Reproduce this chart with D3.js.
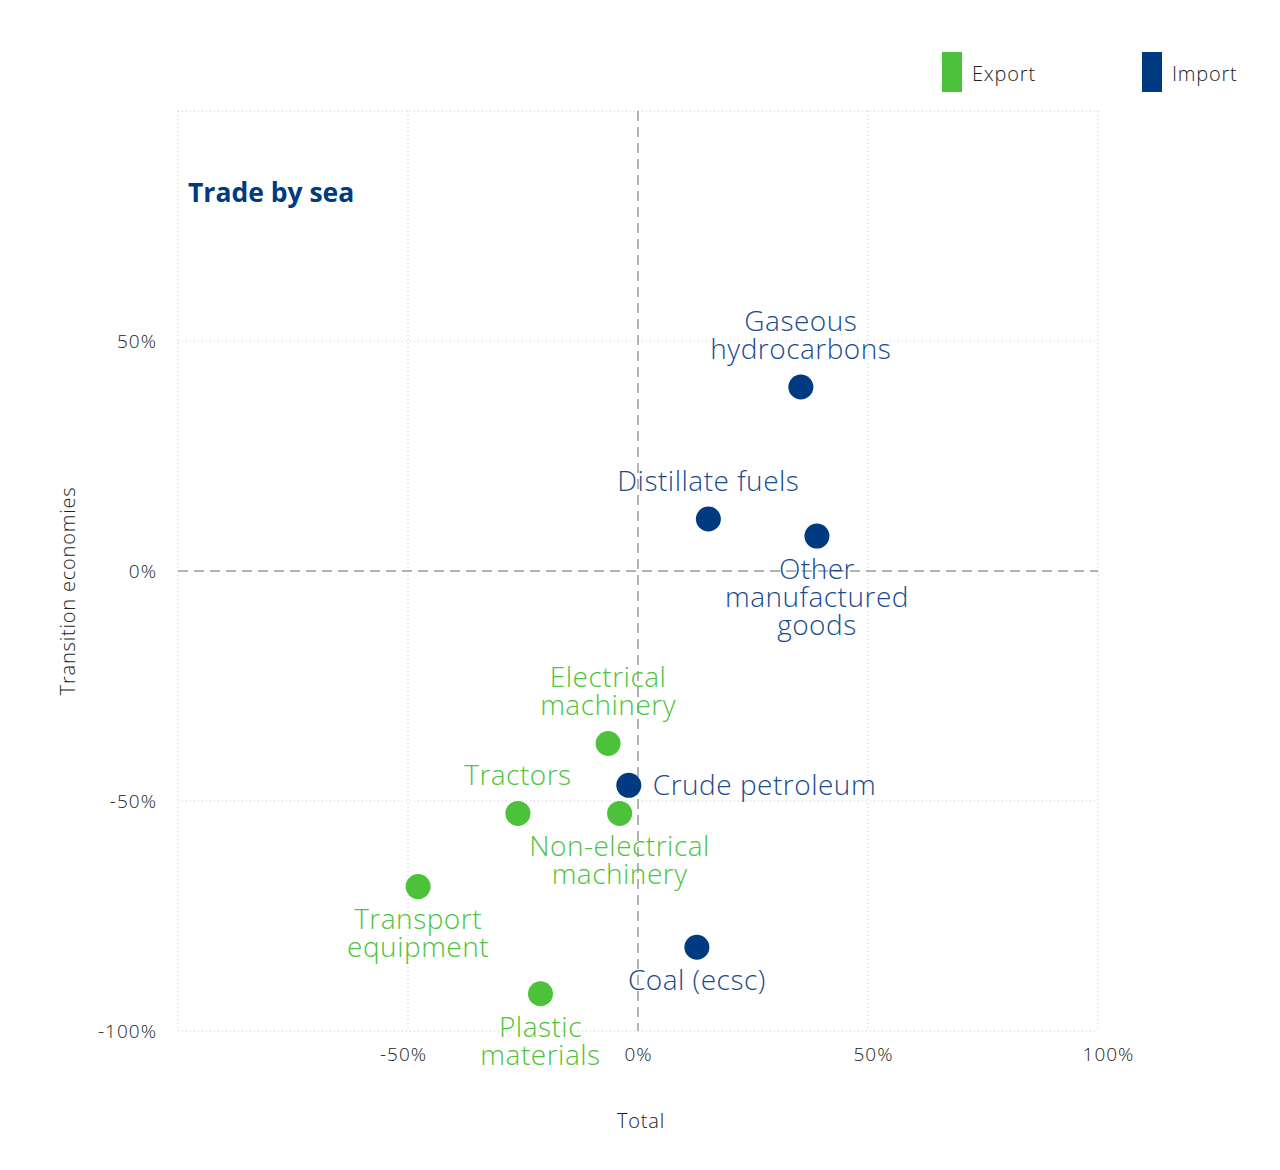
<!DOCTYPE html>
<html><head><meta charset="utf-8">
<script src="https://cdn.jsdelivr.net/npm/d3@7"></script>
<style>
body{margin:0;background:#fff;}
svg{display:block;font-family:"Open Sans",sans-serif;}
</style></head>
<body>
<svg id="chart" width="1280" height="1170"></svg>
<script>
const names = [
  ["Gaseous","hydrocarbons"],
  ["Distillate fuels"],
  ["Other","manufactured","goods"],
  ["Crude petroleum"],
  ["Coal (ecsc)"],
  ["Electrical","machinery"],
  ["Tractors"],
  ["Non-electrical","machinery"],
  ["Transport","equipment"],
  ["Plastic","materials"]
];
const types = ["Import","Import","Import","Import","Import","Export","Export","Export","Export","Export"];
const totalValues = [35.4, 15.3, 38.9, -2.0, 12.8, -6.5, -26.1, -4.0, -47.8, -21.2];
const transitionValues = [40.0, 11.3, 7.6, -46.6, -81.8, -37.5, -52.7, -52.7, -68.6, -91.9];
const labelPlacement = ["above","above","below","right","below","above","above","below","below","below"];
const xTicks = [-100, -50, 0, 50, 100];
const yTicks = [-100, -50, 0, 50, 100];
const xTickLabels = ["", "-50%", "0%", "50%", "100%"];
const yTickLabels = ["-100%", "-50%", "0%", "50%", ""];
const legendItems = ["Export","Import"];

const colors = {Export:"#4cc13a", Import:"#003a80"};
const textColors = {Export:"#4cc43b", Import:"#1a4b90"};

const svg = d3.select("#chart");
const x = d3.scaleLinear().domain([-100,100]).range([178,1098]);
const y = d3.scaleLinear().domain([-100,100]).range([1031,111]);
const xLab = d3.scaleLinear().domain([-100,100]).range([168,1108]);

// grid
const g = svg.append("g");
g.selectAll(".vg").data(xTicks.filter(d=>d!==0)).enter().append("line")
  .attr("x1",d=>x(d)).attr("x2",d=>x(d)).attr("y1",y(100)).attr("y2",y(-100))
  .attr("stroke","#c8c8c8").attr("stroke-width",1).attr("stroke-dasharray","1,3");
g.selectAll(".hg").data(yTicks.filter(d=>d!==0)).enter().append("line")
  .attr("y1",d=>y(d)).attr("y2",d=>y(d)).attr("x1",x(-100)).attr("x2",x(100))
  .attr("stroke","#c8c8c8").attr("stroke-width",1).attr("stroke-dasharray","1,3");
// zero lines
g.append("line").attr("x1",x(0)).attr("x2",x(0)).attr("y1",y(100)).attr("y2",y(-100))
  .attr("stroke","#9a9a9a").attr("stroke-width",1.5).attr("stroke-dasharray","10,6");
g.append("line").attr("y1",y(0)).attr("y2",y(0)).attr("x1",x(-100)).attr("x2",x(100))
  .attr("stroke","#9a9a9a").attr("stroke-width",1.5).attr("stroke-dasharray","10,6");

// axes
const tickStyle = sel => sel.attr("font-size",19).attr("font-weight",300).attr("fill","#222")
  .attr("letter-spacing","1px").attr("font-family","'Open Sans',sans-serif");
const xAxis = d3.axisBottom(x).tickValues(xTicks).tickSize(0).tickFormat((d,i)=>xTickLabels[i]);
const xa = svg.append("g").attr("transform",`translate(0,${y(-100)})`).call(xAxis);
xa.select(".domain").remove();
xa.selectAll(".tick text").attr("x",d=>xLab(d)-x(d)).attr("y",23).attr("dy","0.35em").call(tickStyle);

const yAxis = d3.axisLeft(y).tickValues(yTicks).tickSize(0).tickFormat((d,i)=>yTickLabels[i]);
const ya = svg.append("g").attr("transform",`translate(${x(-100)},0)`).call(yAxis);
ya.select(".domain").remove();
ya.selectAll(".tick text").attr("x",-21).attr("dy","0.35em").call(tickStyle);

// axis titles
svg.append("text").attr("x",641).attr("y",1121).attr("dy","0.35em").attr("text-anchor","middle")
  .attr("font-size",20).attr("font-weight",300).attr("fill","#222").attr("letter-spacing","0.8px").text("Total");
svg.append("text").attr("transform","translate(68,591) rotate(-90)").attr("dy","0.35em").attr("text-anchor","middle")
  .attr("font-size",20).attr("font-weight",300).attr("fill","#222").attr("letter-spacing","0.8px").text("Transition economies");

// title
svg.append("text").attr("x",188).attr("y",193).attr("dy","0.35em")
  .attr("font-size",26.5).attr("font-weight",700).attr("fill","#003a80").text("Trade by sea");

// legend
const lg = svg.selectAll(".leg").data(legendItems).enter().append("g")
  .attr("transform",(d,i)=>`translate(${942+i*200},52)`);
lg.append("rect").attr("width",20).attr("height",40).attr("fill",d=>colors[d]);
lg.append("text").attr("x",30).attr("y",22).attr("dy","0.35em").attr("font-size",20).attr("font-weight",300)
  .attr("fill","#222").attr("letter-spacing","0.8px").text(d=>d);

// points
const data = names.map((n,i)=>({name:n,type:types[i],tx:totalValues[i],ty:transitionValues[i],pl:labelPlacement[i]}));
svg.selectAll(".pt").data(data).enter().append("circle")
  .attr("cx",d=>x(d.tx)).attr("cy",d=>y(d.ty)).attr("r",12.5).attr("fill",d=>colors[d.type]);

// labels
const LH = 28, OFF_A = 38, OFF_B = 33, FS = 28;
data.forEach(d=>{
  const cx = x(d.tx), cy = y(d.ty);
  const n = d.name.length;
  const t = svg.append("text").attr("font-size",FS).attr("font-weight",300)
    .attr("letter-spacing","0.5px").attr("fill",textColors[d.type]);
  if(d.pl==="right"){
    t.attr("x",cx+24).attr("y",cy).attr("dy","0.35em").attr("text-anchor","start").text(d.name[0]);
    return;
  }
  t.attr("text-anchor","middle");
  const firstY = d.pl==="above" ? cy - OFF_A - (n-1)*LH : cy + OFF_B;
  d.name.forEach((line,k)=>{
    t.append("tspan").attr("x",cx).attr("y",firstY+k*LH).attr("dy","0.35em").text(line);
  });
});
</script>
</body></html>
